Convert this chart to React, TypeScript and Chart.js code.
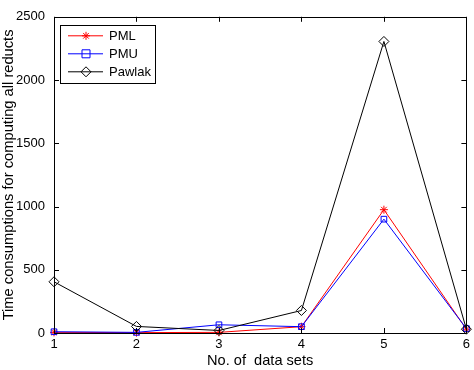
import React, { useEffect, useRef } from "react";
import { Chart, registerables } from "chart.js";

Chart.register(...registerables);

const categories = [1, 2, 3, 4, 5, 6];
const pmlValues = [5, 3, 5, 50, 975, 30];
const pmuValues = [10, 5, 65, 50, 900, 35];
const pawlakValues = [405, 52, 20, 178, 2305, 30];
const yTicks = [0, 500, 1000, 1500, 2000, 2500];
const seriesNames = ["PML", "PMU", "Pawlak"];
const seriesColors = ["#ff0000", "#0000ff", "#000000"];
const seriesStyles = ["star", "rect", "rectRot"];

const FONT = "'Liberation Sans', Arial, sans-serif";

function drawMarker(ctx: CanvasRenderingContext2D, style: string, x: number, y: number, r: number, color: string) {
  ctx.save();
  ctx.strokeStyle = color;
  ctx.lineWidth = 1;
  ctx.beginPath();
  if (style === "rect") {
    ctx.rect(x - r, y - r, 2 * r, 2 * r);
  } else if (style === "rectRot") {
    ctx.moveTo(x, y - r);
    ctx.lineTo(x + r, y);
    ctx.lineTo(x, y + r);
    ctx.lineTo(x - r, y);
    ctx.closePath();
  } else {
    ctx.moveTo(x - r, y);
    ctx.lineTo(x + r, y);
    ctx.moveTo(x, y - r);
    ctx.lineTo(x, y + r);
    const d = r * 0.707;
    ctx.moveTo(x - d, y - d);
    ctx.lineTo(x + d, y + d);
    ctx.moveTo(x - d, y + d);
    ctx.lineTo(x + d, y - d);
  }
  ctx.stroke();
  ctx.restore();
}

const framePlugin = {
  id: "frame",
  afterDraw(chart: any) {
    const { ctx, chartArea } = chart;
    const { left, right, top, bottom } = chartArea;
    const xs = chart.scales.x;
    const ys = chart.scales.y;
    ctx.save();
    ctx.strokeStyle = "#000";
    ctx.lineWidth = 1;
    ctx.beginPath();
    ctx.rect(Math.round(left) + 0.5, Math.round(top) + 0.5, Math.round(right - left), Math.round(bottom - top));
    ctx.stroke();
    const tl = 5;
    ctx.beginPath();
    categories.forEach((c) => {
      const x = Math.round(xs.getPixelForValue(c)) + 0.5;
      ctx.moveTo(x, bottom);
      ctx.lineTo(x, bottom - tl);
      ctx.moveTo(x, top);
      ctx.lineTo(x, top + tl);
    });
    yTicks.forEach((v) => {
      const y = Math.round(ys.getPixelForValue(v)) + 0.5;
      ctx.moveTo(left, y);
      ctx.lineTo(left + tl, y);
      ctx.moveTo(right, y);
      ctx.lineTo(right - tl, y);
    });
    ctx.stroke();

    // legend
    const bx = left + 6;
    const by = top + 8;
    const bw = 95;
    const bh = 58;
    ctx.fillStyle = "#fff";
    ctx.fillRect(bx, by, bw, bh);
    ctx.strokeRect(Math.round(bx) + 0.5, Math.round(by) + 0.5, bw, bh);
    ctx.font = "13px " + FONT;
    ctx.textBaseline = "middle";
    seriesNames.forEach((name, i) => {
      const y = by + 11 + i * 18;
      ctx.strokeStyle = seriesColors[i];
      ctx.beginPath();
      ctx.moveTo(bx + 8, y);
      ctx.lineTo(bx + 43, y);
      ctx.stroke();
      const r = i === 2 ? 5 : 4;
      drawMarker(ctx, seriesStyles[i], bx + 26, y, r, seriesColors[i]);
      ctx.fillStyle = "#000";
      ctx.fillText(name, bx + 49, y + 1);
    });
    ctx.restore();
  },
};

export default function App() {
  const ref = useRef<HTMLCanvasElement>(null);
  useEffect(() => {
    if (!ref.current) return;
    const allValues = [pmlValues, pmuValues, pawlakValues];
    const chart = new Chart(ref.current, {
      type: "line",
      data: {
        datasets: allValues.map((vals, i) => ({
          label: seriesNames[i],
          data: categories.map((c, j) => ({ x: c, y: vals[j] })),
          borderColor: seriesColors[i],
          backgroundColor: "rgba(0,0,0,0)",
          borderWidth: 1,
          pointStyle: seriesStyles[i] as any,
          pointRadius: i === 2 ? 5 : 4,
          pointBorderColor: seriesColors[i],
          pointBackgroundColor: "rgba(0,0,0,0)",
          pointBorderWidth: 1,
          tension: 0,
          order: 3 - i,
        })),
      },
      options: {
        animation: false,
        responsive: false,
        maintainAspectRatio: false,
        clip: false as any,
        layout: { padding: { top: 5, right: 5, left: 0, bottom: 0 } },
        plugins: { legend: { display: false }, tooltip: { enabled: false } },
        scales: {
          x: {
            type: "linear",
            min: 1,
            max: 6,
            grid: { display: false, drawTicks: false },
            border: { display: false },
            ticks: {
              stepSize: 1,
              color: "#000",
              font: { size: 13, family: FONT },
              padding: 4,
              callback: (v: any) => String(v),
            },
            title: {
              display: true,
              text: "No. of  data sets",
              color: "#000",
              font: { size: 14.6, family: FONT },
              padding: { top: 0, bottom: 0 },
            },
            afterFit: (s: any) => {
              s.height = 37;
            },
          },
          y: {
            type: "linear",
            min: 0,
            max: 2500,
            grid: { display: false, drawTicks: false },
            border: { display: false },
            ticks: {
              stepSize: 500,
              color: "#000",
              font: { size: 13, family: FONT },
              padding: 9,
              callback: (v: any) => String(v),
            },
            title: {
              display: true,
              text: "Time consumptions for computing all reducts",
              color: "#000",
              font: { size: 14.7, family: FONT },
              padding: { top: 0, bottom: 0 },
            },
            afterFit: (s: any) => {
              s.width = 54;
            },
          },
        },
      },
      plugins: [framePlugin],
    });
    return () => chart.destroy();
  }, []);
  return (
    <div style={{ position: "fixed", left: 0, top: 0, width: 474, height: 370, background: "#fff" }}>
      <canvas ref={ref} width={474} height={370} />
    </div>
  );
}
